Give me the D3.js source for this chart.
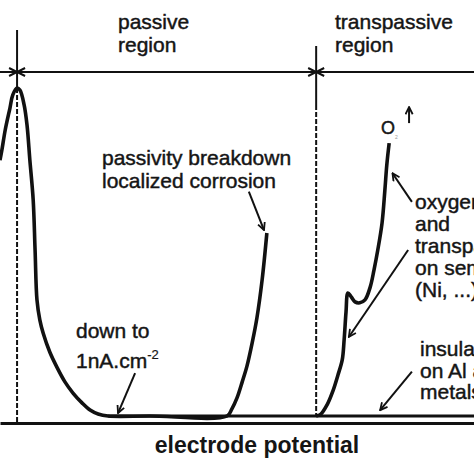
<!DOCTYPE html>
<html>
<head>
<meta charset="utf-8">
<script src="https://cdn.jsdelivr.net/npm/d3@7"></script>
<style>
  body { margin: 0; background: #fff; }
  text { font-family: "Liberation Sans", Arial, sans-serif; fill: #151515; }
  text.lbl { stroke: #151515; stroke-width: 0.45; }
</style>
</head>
<body>
<div id="chart"></div>
<script>
var w = 474; // Define width
var h = 474; // Define height

// Active / passive curve (potential and current in arbitrary units)
var activePotential = [0, 0.4, 1.1, 2.1, 2.7, 3.6, 4.2, 5.1, 5.7, 6.3, 7.0, 7.4, 7.8, 8.4, 9.1, 10.5, 12.0, 13.7, 15.4, 17.3, 19.0, 20.7, 22.8, 31.6, 47.9, 48.9, 50.0, 51.1, 52.1, 53.2, 54.2, 55.3, 56.3];
var activeCurrent = [78.0, 81.1, 87.2, 93.9, 97.9, 100, 99.4, 94.8, 88.7, 78.0, 65.9, 50.6, 35.4, 29.3, 25.3, 19.5, 14.9, 10.4, 7.0, 4.0, 1.8, 0.6, 0, 0, 0, 2.1, 5.5, 10.4, 15.2, 22.3, 29.9, 41.5, 55.8];

// Insulating oxide: stays at the bottom
var flatPotential = [22.8, 100];
var flatCurrent = [0, 0];

// Transpassive curve
var transPotential = [66.7, 67.7, 69.0, 70.3, 71.3, 72.2, 72.6, 73.0, 73.4, 74.1, 74.9, 75.9, 77.0, 78.1, 78.9, 79.7, 80.6, 81.2, 81.6, 82.1];
var transCurrent = [0, 0.6, 3.4, 7.9, 12.5, 17.1, 23.2, 31.7, 37.5, 36.3, 34.8, 34.5, 35.4, 39.3, 44.5, 50.6, 58.8, 68.9, 76.5, 83.2];

// Region boundaries and labels
var regionBounds = [3.6, 66.7];
var regionLabels = [["passive", "region"], ["transpassive", "region"]];

var breakdownLabel = ["passivity breakdown", "localized corrosion"];
var lowLabel = ["down to", "1nA.cm"];
var oxygenLabel = ["oxygen evolution", "and", "transpassive dissolution", "on semiconductors", "(Ni, ...)"];
var insulLabel = ["insulating oxide", "on Al and valve", "metals"];
var axisTitle = "electrode potential";

function toPoints(xs, ys) {
    return xs.map(function(v, i) { return { e: v, i: ys[i] }; });
}

function draw() {
    var xScale = d3.scaleLinear().domain([0, 100]).range([0, w]);
    var yScale = d3.scaleLinear().domain([0, 100]).range([416, 88]);

    var svg = d3.select("#chart")
        .append("svg")
        .attr("width", w)
        .attr("height", h);

    svg.append("rect").attr("width", w).attr("height", h).attr("fill", "#fff");

    var defs = svg.append("defs");
    defs.append("marker")
        .attr("id", "arr")
        .attr("viewBox", "0 0 10 10")
        .attr("refX", 9)
        .attr("refY", 5)
        .attr("markerWidth", 9)
        .attr("markerHeight", 9)
        .attr("markerUnits", "userSpaceOnUse")
        .attr("orient", "auto")
        .append("path")
        .attr("d", "M1,1 L9,5 L1,9")
        .attr("fill", "none")
        .attr("stroke", "#111")
        .attr("stroke-width", 2);

    // x axis (no ticks)
    var axis = svg.append("g")
        .attr("transform", "translate(0,423)")
        .call(d3.axisBottom(xScale).tickValues([]).tickSizeOuter(0));
    axis.select(".domain").attr("stroke", "#111").attr("stroke-width", 3);

    svg.append("text")
        .attr("x", 257)
        .attr("y", 453)
        .attr("text-anchor", "middle")
        .attr("font-size", 23)
        .attr("font-weight", "bold")
        .text(axisTitle);

    // region divider line on top
    var topY = 72;
    svg.append("line")
        .attr("x1", xScale(0)).attr("x2", xScale(100))
        .attr("y1", topY).attr("y2", topY)
        .attr("stroke", "#111").attr("stroke-width", 2);

    var solidTop = [30, 46];
    var solidEnd = [88, 105];
    var dashEnd = [423, 416];
    regionBounds.forEach(function(b, k) {
        var bx = xScale(b);
        svg.append("line")
            .attr("x1", bx).attr("x2", bx)
            .attr("y1", solidTop[k]).attr("y2", solidEnd[k])
            .attr("stroke", "#111").attr("stroke-width", 2);
        svg.append("line")
            .attr("x1", bx).attr("x2", bx)
            .attr("y1", solidEnd[k]).attr("y2", dashEnd[k])
            .attr("stroke", "#111").attr("stroke-width", 2)
            .attr("stroke-dasharray", "5,2");
        // arrowheads meeting at the boundary
        svg.append("path")
            .attr("d", "M" + (bx - 8) + "," + (topY - 4) + "L" + bx + "," + topY + "L" + (bx - 8) + "," + (topY + 4) +
                "M" + (bx + 8) + "," + (topY - 4) + "L" + bx + "," + topY + "L" + (bx + 8) + "," + (topY + 4))
            .attr("fill", "none").attr("stroke", "#111").attr("stroke-width", 2);
    });

    var labelX = [118, 335];
    regionLabels.forEach(function(lines, k) {
        lines.forEach(function(t, j) {
            svg.append("text")
                .attr("class", "lbl")
                .attr("x", labelX[k])
                .attr("y", 29 + j * 23)
                .attr("font-size", 21)
                .text(t);
        });
    });

    // curves
    var line = d3.line()
        .x(function(d) { return xScale(d.e); })
        .y(function(d) { return yScale(d.i); })
        .curve(d3.curveCatmullRom.alpha(0.5));

    svg.append("path")
        .datum(toPoints(flatPotential, flatCurrent))
        .attr("d", line)
        .attr("fill", "none").attr("stroke", "#111").attr("stroke-width", 3.2);

    svg.append("path")
        .datum(toPoints(activePotential, activeCurrent))
        .attr("d", line)
        .attr("fill", "none").attr("stroke", "#111").attr("stroke-width", 3.6)
        .attr("stroke-linejoin", "round");

    svg.append("path")
        .datum(toPoints(transPotential, transCurrent))
        .attr("d", line)
        .attr("fill", "none").attr("stroke", "#111").attr("stroke-width", 3.6)
        .attr("stroke-linejoin", "round");

    // annotation arrows (potential, current units)
    var arrows = [
        [52.5, 68.4, 55.7, 56.7],
        [28.5, 13.1, 24.9, 0.9],
        [86.9, 65.3, 82.8, 74.0],
        [86.1, 50.6, 73.6, 24.1],
        [86.9, 13.5, 80.2, 1.8],
        [86.3, 89.3, 86.3, 94.2]
    ];
    svg.selectAll(".ann")
        .data(arrows)
        .enter()
        .append("line")
        .attr("class", "ann")
        .attr("x1", function(d) { return xScale(d[0]); })
        .attr("y1", function(d) { return yScale(d[1]); })
        .attr("x2", function(d) { return xScale(d[2]); })
        .attr("y2", function(d) { return yScale(d[3]); })
        .attr("stroke", "#111")
        .attr("stroke-width", 2)
        .attr("marker-end", "url(#arr)");

    // texts
    function block(lines, x0, y0, step) {
        lines.forEach(function(t, j) {
            svg.append("text")
                .attr("class", "lbl")
                .attr("x", x0)
                .attr("y", y0 + j * step)
                .attr("font-size", 21)
                .text(t);
        });
    }
    block(breakdownLabel, 102, 165, 23);
    block(oxygenLabel, 415, 209, 22);
    block(insulLabel, 420, 356, 21.5);

    svg.append("text").attr("class", "lbl").attr("x", 76).attr("y", 338).attr("font-size", 21).text(lowLabel[0]);
    var low = svg.append("text").attr("class", "lbl").attr("x", 76).attr("y", 368).attr("font-size", 21).text(lowLabel[1]);
    low.append("tspan").attr("dy", -9).attr("font-size", 13).attr("stroke-width", 0.2).text("-2");

    var ox = svg.append("text").attr("class", "lbl").attr("x", 381).attr("y", 134).attr("font-size", 18).text("O");
    ox.append("tspan").attr("dy", 5).attr("font-size", 5).attr("fill", "#999").attr("stroke", "none").text("2");
}

draw();
</script>
</body>
</html>
